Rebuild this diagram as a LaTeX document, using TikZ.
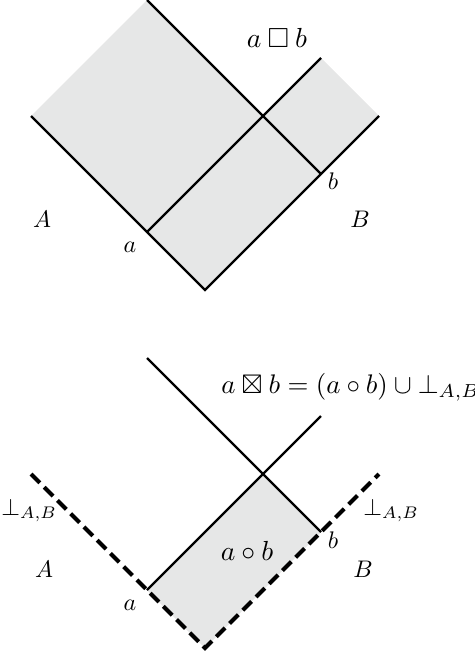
\RequirePackage{fix-cm}
\documentclass[tikz,border=0pt]{standalone}
\usepackage{amssymb}
\definecolor{shadecol}{RGB}{230,231,231}
\begin{document}
\begin{tikzpicture}[x=0.4167pt,y=-0.4167pt,
  edge/.style={line width=0.9pt},
  dashedge/.style={line width=1.75pt, dash pattern=on 5.2pt off 2.6pt},
  lab/.style={font=\fontsize{10}{12}\selectfont, inner sep=0pt, anchor=base},
  biglab/.style={font=\fontsize{11.5}{14}\selectfont, inner sep=0pt, anchor=base},
  eqlab/.style={font=\fontsize{11.2}{14}\selectfont, inner sep=0pt, anchor=base west}]
\useasboundingbox (0,0) rectangle (474,653);
% ---------- top diagram ----------
\coordinate (V) at (205,290);
\coordinate (a) at (147,232);
\coordinate (b) at (321,174);
\coordinate (L) at (31,116);
\coordinate (R) at (379,116);
\coordinate (X) at (263,116);
\coordinate (T) at (147,0);
\coordinate (U) at (321,58);
\fill[shadecol] (L) -- (T) -- (X) -- (U) -- (R) -- (V) -- cycle;
\draw[edge] (L) -- (V) -- (R);
\draw[edge] (a) -- (U);
\draw[edge] (T) -- (b);
\node[biglab] (opbox) at (277,47) {$a \mathbin{\square} b$};
\node[lab] (Atop) at (42,227) {$A$};
\node[lab] (Btop) at (360,227) {$B$};
\node[lab] (atop) at (130,252) {$a$};
\node[lab] (btop) at (333,189) {$b$};
% ---------- bottom diagram ----------
\coordinate (V2) at (205,648);
\coordinate (a2) at (147,590);
\coordinate (b2) at (321,532);
\coordinate (L2) at (31,474);
\coordinate (R2) at (379,474);
\coordinate (X2) at (263,474);
\coordinate (T2) at (147,358);
\coordinate (U2) at (321,416);
\fill[shadecol] (a2) -- (X2) -- (b2) -- (V2) -- cycle;
\draw[edge] (a2) -- (U2);
\draw[edge] (T2) -- (b2);
\draw[dashedge] (L2) -- (V2) -- (R2);
\node[eqlab] (eq) at (221,393) {$a \boxtimes b = (a \circ b) \cup \bot_{A,B}$};
\node[lab, anchor=base west] (botL) at (1,515) {$\bot_{A,B}$};
\node[lab, anchor=base west] (botR) at (363,515) {$\bot_{A,B}$};
\node[lab] (Abot) at (44,577) {$A$};
\node[lab] (Bbot) at (363,577) {$B$};
\node[lab] (abot) at (130,610) {$a$};
\node[lab] (bbot) at (333,548) {$b$};
\node[biglab] (circ) at (247,560) {$a \circ b$};
\end{tikzpicture}
\end{document}
